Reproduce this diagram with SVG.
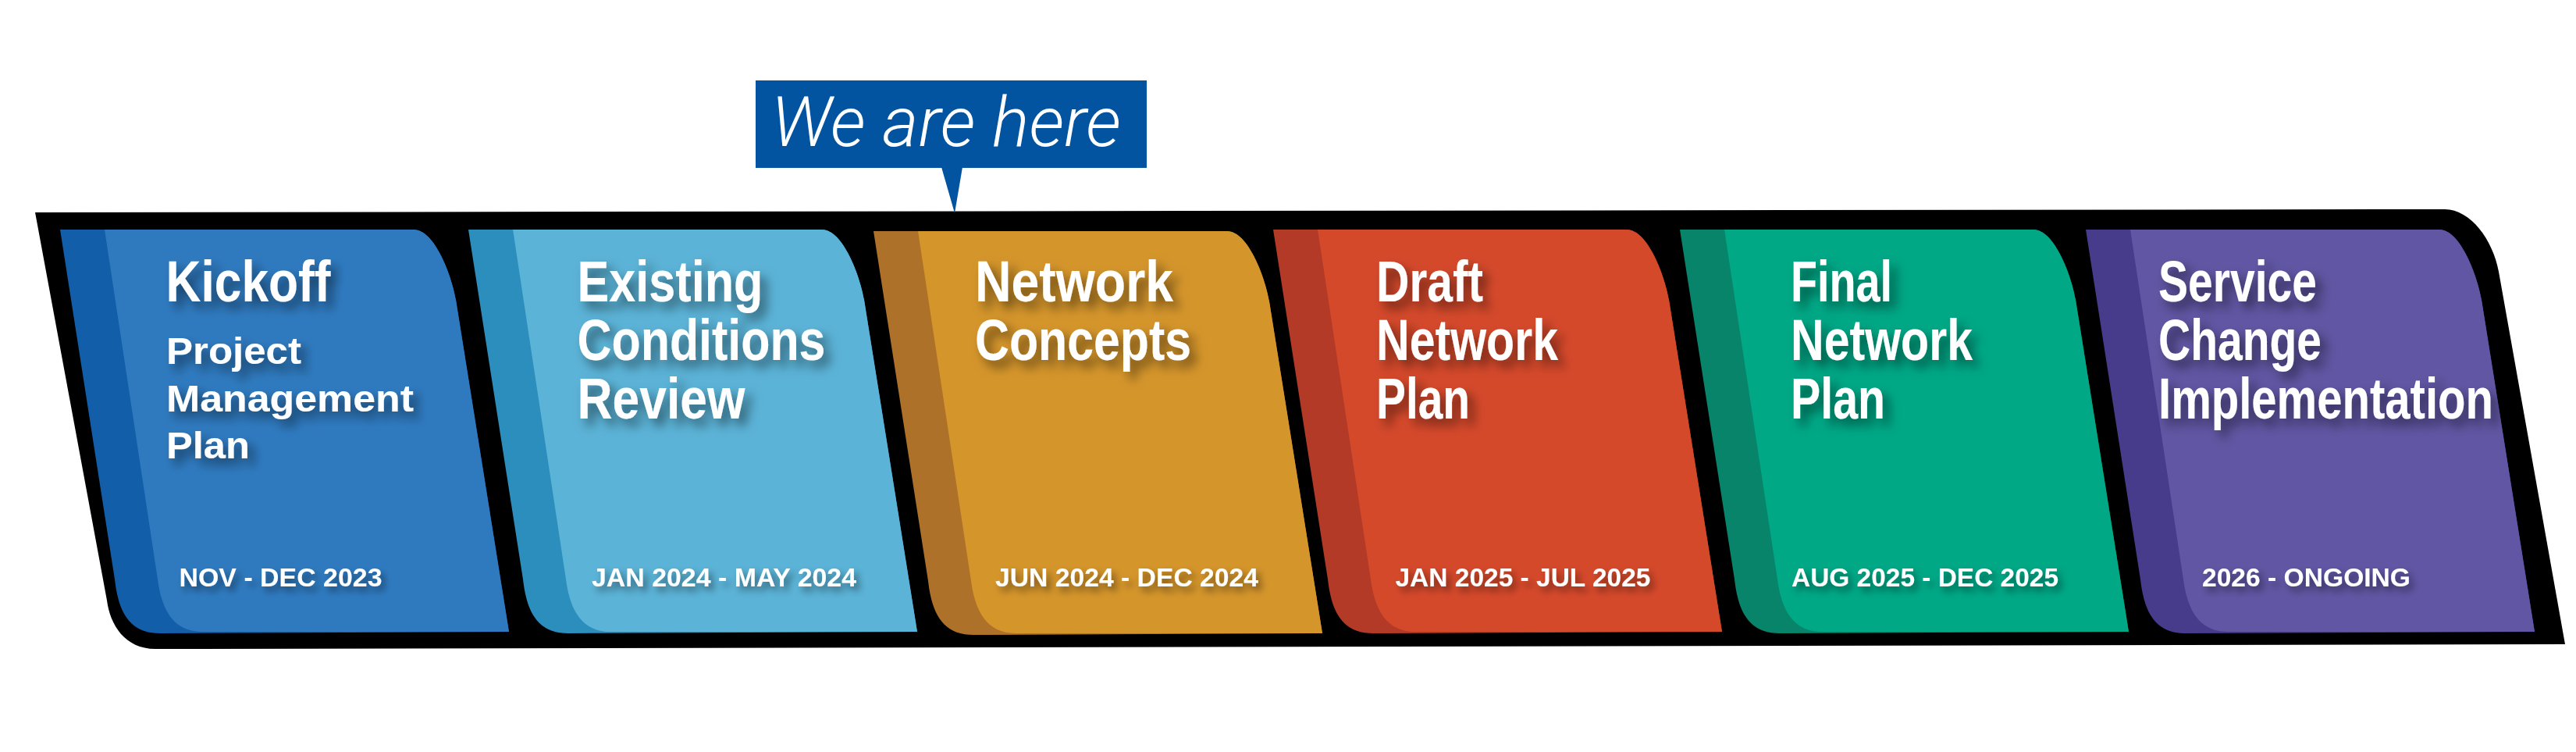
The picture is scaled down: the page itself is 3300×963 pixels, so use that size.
<svg xmlns="http://www.w3.org/2000/svg" xmlns:xlink="http://www.w3.org/1999/xlink" width="3300" height="963" viewBox="0 0 3300 963">
  <style>
    .title { font-family: "Liberation Sans Narrow", "Liberation Sans", Arial, sans-serif; font-weight: 700; font-size: 75px; fill: #ffffff; filter: url(#tshadow); }
    .sub { font-family: "Liberation Sans", Arial, sans-serif; font-weight: 700; font-size: 48px; fill: #ffffff; filter: url(#tshadow); }
    .date { font-family: "Liberation Sans", Arial, sans-serif; font-weight: 700; font-size: 33.5px; fill: #ffffff; filter: url(#dshadow); }
    .here { font-family: Roboto, "Open Sans", "Liberation Sans", sans-serif; font-weight: 300; font-style: italic; font-size: 88px; fill: #ffffff; }
  </style>
  <defs>
    <filter id="tshadow" x="-20%" y="-30%" width="150%" height="180%">
      <feDropShadow dx="8" dy="9" stdDeviation="7" flood-color="#000000" flood-opacity="0.5"/>
    </filter>
    <filter id="dshadow" x="-20%" y="-50%" width="150%" height="220%">
      <feDropShadow dx="5" dy="6" stdDeviation="5" flood-color="#000000" flood-opacity="0.45"/>
    </filter>
    <path id="cardBody" d="M0,0 L453,0 C480,0 502,60 507,90 L575,515 L128,517 C90,517 75,492 70,448 Z"/>
    <path id="cardFace" d="M57,0 L453,0 C480,0 502,60 507,90 L575,515 L182,515 C150,515 131,494 125,448 Z"/>
  </defs>

  <rect width="3300" height="963" fill="#ffffff"/>

  <g id="band">
    <path d="M45,272 L3132,268 C3165,268 3194,308 3201,348 L3286,825 L199,831 C160,831 141,800 137,769 Z" fill="#000000"/>
  </g>

  <g id="callout">
    <rect x="968" y="103" width="501" height="112" fill="#0254A1"/>
    <polygon points="1206,214 1233,214 1223,273" fill="#0254A1"/>
    <text class="here" x="988" y="187" textLength="448" lengthAdjust="spacingAndGlyphs">We are here</text>
  </g>

  <g id="connectors"></g>

  <g id="stage-kickoff" transform="translate(77,294)">
    <use xlink:href="#cardBody" fill="#125EA9"/>
    <use xlink:href="#cardFace" fill="#2F7ABF"/>
  </g>
  <g id="stage-kickoff-text">
    <text class="title" x="212.5" y="386" textLength="211" lengthAdjust="spacingAndGlyphs">Kickoff</text>
    <text class="sub" x="213" y="465.7" textLength="173" lengthAdjust="spacingAndGlyphs">Project</text>
    <text class="sub" x="213" y="526.7" textLength="317" lengthAdjust="spacingAndGlyphs">Management</text>
    <text class="sub" x="213" y="587.3" textLength="107" lengthAdjust="spacingAndGlyphs">Plan</text>
    <text class="date" x="229.5" y="750.6" textLength="260" lengthAdjust="spacingAndGlyphs">NOV - DEC 2023</text>
  </g>

  <g id="stage-existing" transform="translate(600,294)">
    <use xlink:href="#cardBody" fill="#2B8EBC"/>
    <use xlink:href="#cardFace" fill="#5BB3D7"/>
  </g>
  <g id="stage-existing-text">
    <text class="title" x="739.5" y="386" textLength="238" lengthAdjust="spacingAndGlyphs">Existing</text>
    <text class="title" x="739.5" y="460.5" textLength="318" lengthAdjust="spacingAndGlyphs">Conditions</text>
    <text class="title" x="739.5" y="535.5" textLength="215" lengthAdjust="spacingAndGlyphs">Review</text>
    <text class="date" x="758" y="750.6" textLength="339" lengthAdjust="spacingAndGlyphs">JAN 2024 - MAY 2024</text>
  </g>

  <g id="stage-concepts" transform="translate(1119,296)">
    <use xlink:href="#cardBody" fill="#AE7129"/>
    <use xlink:href="#cardFace" fill="#D4952B"/>
  </g>
  <g id="stage-concepts-text">
    <text class="title" x="1249" y="386" textLength="254" lengthAdjust="spacingAndGlyphs">Network</text>
    <text class="title" x="1249" y="460.5" textLength="277" lengthAdjust="spacingAndGlyphs">Concepts</text>
    <text class="date" x="1275" y="750.6" textLength="337" lengthAdjust="spacingAndGlyphs">JUN 2024 - DEC 2024</text>
  </g>

  <g id="stage-draft" transform="translate(1631,294)">
    <use xlink:href="#cardBody" fill="#B23A27"/>
    <use xlink:href="#cardFace" fill="#D5492B"/>
  </g>
  <g id="stage-draft-text">
    <text class="title" x="1763" y="386" textLength="137" lengthAdjust="spacingAndGlyphs">Draft</text>
    <text class="title" x="1763" y="460.5" textLength="233" lengthAdjust="spacingAndGlyphs">Network</text>
    <text class="title" x="1763" y="535.5" textLength="120" lengthAdjust="spacingAndGlyphs">Plan</text>
    <text class="date" x="1787.5" y="750.6" textLength="327" lengthAdjust="spacingAndGlyphs">JAN 2025 - JUL 2025</text>
  </g>

  <g id="stage-final" transform="translate(2152,294)">
    <use xlink:href="#cardBody" fill="#08846A"/>
    <use xlink:href="#cardFace" fill="#00A886"/>
  </g>
  <g id="stage-final-text">
    <text class="title" x="2294" y="386" textLength="130" lengthAdjust="spacingAndGlyphs">Final</text>
    <text class="title" x="2294" y="460.5" textLength="233" lengthAdjust="spacingAndGlyphs">Network</text>
    <text class="title" x="2294" y="535.5" textLength="121" lengthAdjust="spacingAndGlyphs">Plan</text>
    <text class="date" x="2295" y="750.6" textLength="342" lengthAdjust="spacingAndGlyphs">AUG 2025 - DEC 2025</text>
  </g>

  <g id="stage-implementation" transform="translate(2672,294)">
    <use xlink:href="#cardBody" fill="#473C8C"/>
    <use xlink:href="#cardFace" fill="#6056A3"/>
  </g>
  <g id="stage-implementation-text">
    <text class="title" x="2765" y="386" textLength="203" lengthAdjust="spacingAndGlyphs">Service</text>
    <text class="title" x="2765" y="460.5" textLength="209" lengthAdjust="spacingAndGlyphs">Change</text>
    <text class="title" x="2765" y="535.5" textLength="429" lengthAdjust="spacingAndGlyphs">Implementation</text>
    <text class="date" x="2821" y="750.6" textLength="267" lengthAdjust="spacingAndGlyphs">2026 - ONGOING</text>
  </g>
</svg>
